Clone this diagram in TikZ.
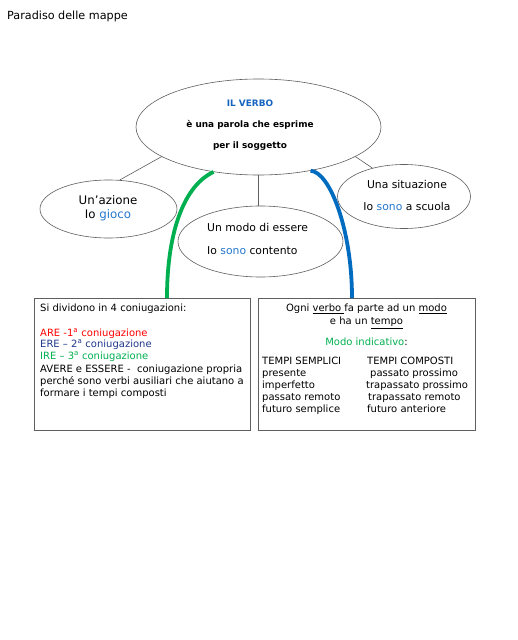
\documentclass[tikz,border=0pt]{standalone}
\usepackage{fontspec}
\setmainfont{DejaVu Sans}
\usetikzlibrary{shapes.geometric,calc}
\definecolor{tblue}{RGB}{38,120,205}
\definecolor{vblue}{RGB}{21,101,192}
\definecolor{tgreen}{RGB}{0,176,80}
\definecolor{cblue}{RGB}{0,108,192}
\definecolor{navy}{RGB}{31,56,140}
\definecolor{lgray}{RGB}{95,95,95}
\begin{document}
\begin{tikzpicture}[x=1pt,y=-1pt,
  oval/.style={ellipse,draw=lgray,line width=0.6pt,inner sep=0},
  boxed/.style={draw=lgray,line width=0.7pt,inner sep=0,anchor=north west},
  link/.style={draw=lgray,line width=0.6pt},
  curve/.style={line width=3.8pt},
  bt/.style={inner sep=0,anchor=base west,font=\fontsize{10}{12}\selectfont},
  bc/.style={bt,anchor=base},
  et/.style={inner sep=0,anchor=base,font=\fontsize{10.8}{13}\selectfont},
  el/.style={inner sep=0,anchor=base west,font=\fontsize{10.8}{13}\selectfont},
  mt/.style={inner sep=0,anchor=base,font=\fontsize{8.9}{10}\selectfont\bfseries},
]
\useasboundingbox[fill=white] (0,0) rectangle (517,640);

% title
\node[inner sep=0,anchor=base west,font=\fontsize{11.2}{13}\selectfont] (title) at (7,19.5) {Paradiso delle mappe};

% ellipses
\node[oval,minimum width=245,minimum height=96] (main) at (258.5,127) {};
\node[oval,minimum width=137,minimum height=58] (left) at (108.5,209) {};
\node[oval,minimum width=165,minimum height=71] (mid) at (260.5,241.5) {};
\node[oval,minimum width=133,minimum height=64] (right) at (404,196.5) {};

% main text
\node[mt,text=vblue] (t1) at (250,106.5) {IL VERBO};
\node[mt] (t2) at (250,127.5) {è una parola che esprime};
\node[mt] (t3) at (250,148.5) {per il soggetto};

% left ellipse text
\node[et,font=\fontsize{11.8}{14}\selectfont] (l1) at (108,204) {Un’azione};
\node[et,font=\fontsize{11.8}{14}\selectfont] (l2) at (108,218.5) {Io \textcolor{tblue}{gioco}};

% mid ellipse text
\node[el] (m1) at (207,231) {Un modo di essere};
\node[el] (m2) at (207,254) {Io \textcolor{tblue}{sono} contento};

% right ellipse text
\node[et] (r1) at (407,188) {Una situazione};
\node[et] (r2) at (407,210) {Io \textcolor{tblue}{sono} a scuola};

% connectors
\draw[link] (main.197) -- (left.69);
\draw[link] (main.343) -- (right.138);
\draw[link] (main.south) -- (main.south |- mid.north);

% boxes
\node[boxed,minimum width=216,minimum height=132] (lbox) at (34,298) {};
\node[boxed,minimum width=217,minimum height=132] (rbox) at (258,298) {};

\coordinate (gend) at ($(lbox.north west)+(133,0)$);
\coordinate (bend) at ($(rbox.north west)+(94,0)$);

% coloured curves
\draw[curve,tgreen] (main.225) .. controls (185,185) and (167,230) .. (gend);
\draw[curve,cblue] (main.320) .. controls (330,172) and (352,230) .. (bend);

% left box text
\node[bt] (a1) at (40,311.5) {Si dividono in 4 coniugazioni:};
\node[bt,text=red] (a2) at (40,336.5) {ARE -1\textsuperscript{a} coniugazione};
\node[bt,text=navy] (a3) at (40,347.5) {ERE – 2\textsuperscript{a} coniugazione};
\node[bt,text=tgreen] (a4) at (40,359.5) {IRE – 3\textsuperscript{a} coniugazione};
\node[bt] (a5) at (40,372) {AVERE e ESSERE -\ \ coniugazione propria};
\node[bt] (a6) at (40,384) {perché sono verbi ausiliari che aiutano a};
\node[bt] (a7) at (40,396) {formare i tempi composti};

% right box text
\node[bc] (b1) at (366.5,311.5) {Ogni \underline{verbo\ }fa parte ad un \underline{modo}};
\node[bc] (b2) at (366.5,324.5) {e ha un \underline{tempo}};
\node[bc] (b3) at (366.5,345.5) {\textcolor{tgreen}{Modo indicativo}:};
\node[bt] (c1) at (262,364.5) {TEMPI SEMPLICI};
\node[bt] (c2) at (262,376) {presente};
\node[bt] (c3) at (262,388.5) {imperfetto};
\node[bt] (c4) at (262,400.5) {passato remoto};
\node[bt] (c5) at (262,412) {futuro semplice};
\node[bt] (d1) at (367,364.5) {TEMPI COMPOSTI};
\node[bt] (d2) at (370,376) {passato prossimo};
\node[bt] (d3) at (366,388.5) {trapassato prossimo};
\node[bt] (d4) at (368,400.5) {trapassato remoto};
\node[bt] (d5) at (367,412) {futuro anteriore};
\end{tikzpicture}
\end{document}
